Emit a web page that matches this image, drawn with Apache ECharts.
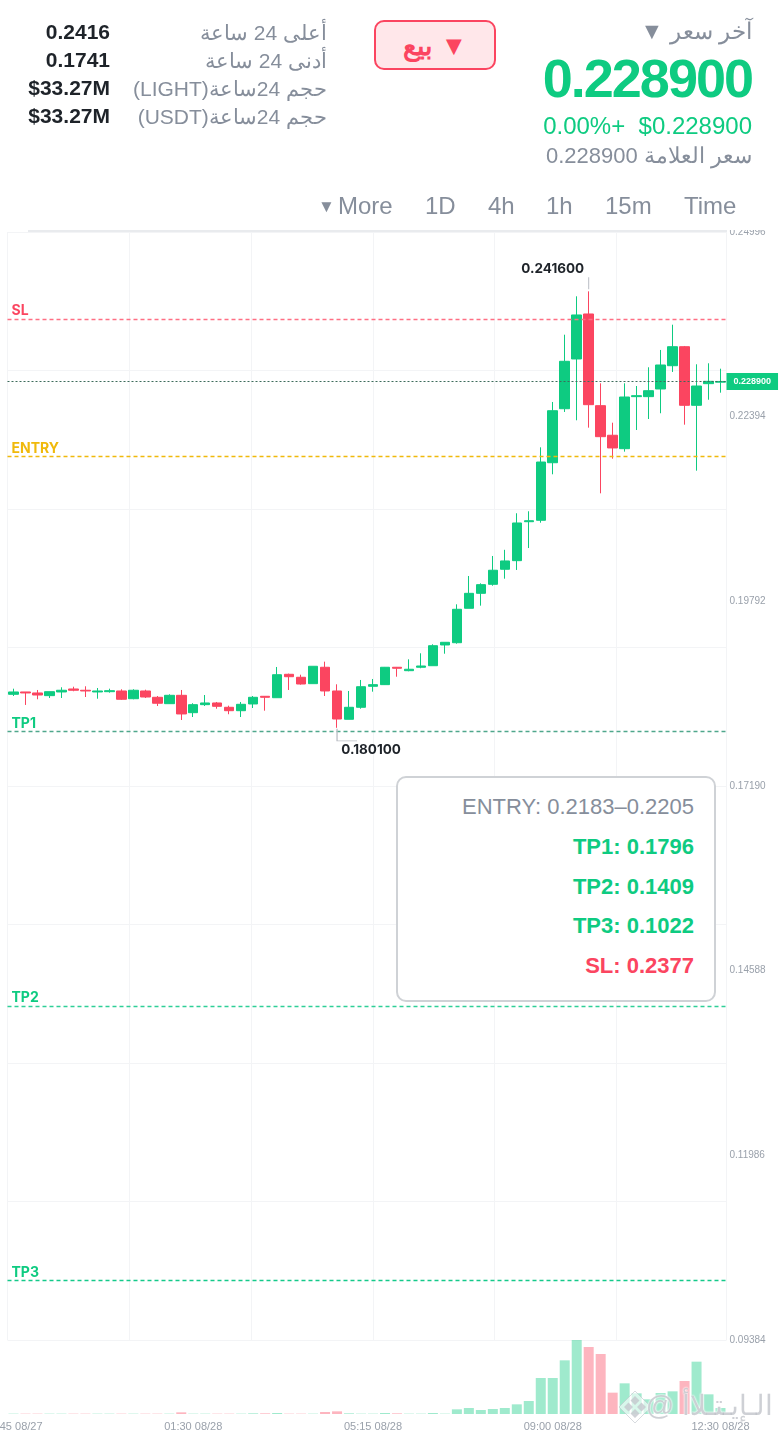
<!DOCTYPE html>
<html><head><meta charset="utf-8">
<script src="https://cdn.jsdelivr.net/npm/echarts@6/dist/echarts.min.js"></script>
<style>
html,body{margin:0;padding:0;background:#fff;width:780px;height:1432px;overflow:hidden;font-family:"Liberation Sans",sans-serif}
#chart{position:absolute;left:0;top:0;width:780px;height:1432px}
.t{position:absolute;white-space:nowrap;line-height:1}
.g{color:#868e9b}.d{color:#1e2329;font-weight:bold}.up{color:#0ecb81}
#box{position:absolute;left:396px;top:776px;width:316px;height:222px;border:2px solid #cfd2d6;border-radius:10px;background:#fff}
#box div{position:absolute;right:20px;font-size:22px;line-height:1;white-space:nowrap}
#tabs span{position:absolute;top:194px;font-size:24px;line-height:1;color:#868e9b;white-space:nowrap}
</style></head><body>
<div id="chart"></div>
<div id="head"></div>
<div id="tabs"></div>
<div id="box"></div>
<svg style="position:absolute;left:618px;top:1390px" width="34" height="34" viewBox="0 0 34 34"><path d="M17 1L33 17L17 33L1 17Z" fill="rgba(255,255,255,.6)" stroke="rgba(190,195,202,.6)" stroke-width="1"/><g fill="#c3c7cd" opacity=".8"><path d="M17 6l4.5 4.5-4.5 4.5-4.5-4.5zM17 19l4.5 4.5-4.5 4.5-4.5-4.5zM10.500 12.500l4.500 4.500-4.500 4.500-4.500-4.500zM23.500 12.500l4.500 4.500-4.500 4.500-4.500-4.500z"/></g></svg>
<div class="t" id="wm" style="right:7px;top:1392px;font-size:28px;color:rgba(165,170,178,.55);text-shadow:0 0 2px #fff,0 0 2px #fff;direction:rtl;text-align:right;letter-spacing:1px">الـإيـتـلاأ @</div>
<script>
var categories=["21:45 08/27","22:00 08/27","22:15 08/27","22:30 08/27","22:45 08/27","23:00 08/27","23:15 08/27","23:30 08/27","23:45 08/27","00:00 08/28","00:15 08/28","00:30 08/28","00:45 08/28","01:00 08/28","01:15 08/28","01:30 08/28","01:45 08/28","02:00 08/28","02:15 08/28","02:30 08/28","02:45 08/28","03:00 08/28","03:15 08/28","03:30 08/28","03:45 08/28","04:00 08/28","04:15 08/28","04:30 08/28","04:45 08/28","05:00 08/28","05:15 08/28","05:30 08/28","05:45 08/28","06:00 08/28","06:15 08/28","06:30 08/28","06:45 08/28","07:00 08/28","07:15 08/28","07:30 08/28","07:45 08/28","08:00 08/28","08:15 08/28","08:30 08/28","08:45 08/28","09:00 08/28","09:15 08/28","09:30 08/28","09:45 08/28","10:00 08/28","10:15 08/28","10:30 08/28","10:45 08/28","11:00 08/28","11:15 08/28","11:30 08/28","11:45 08/28","12:00 08/28","12:15 08/28","12:30 08/28"];
var opens=[.18482,.18515,.18501,.18463,.18515,.18557,.18539,.18515,.18519,.18529,.18420,.18529,.18440,.18350,.18468,.18223,.18336,.18360,.18299,.18251,.18346,.18454,.18434,.18764,.18722,.18632,.18863,.18529,.18130,.18299,.18595,.18618,.18863,.18815,.18863,.18885,.19177,.19209,.19694,.19905,.20032,.20244,.20365,.20914,.20934,.21745,.22506,.23207,.23841,.22549,.22132,.21943,.22676,.22676,.22784,.23112,.23380,.22554,.22859,.22880];
var closes=[.18515,.18501,.18472,.18519,.18539,.18539,.18529,.18529,.18533,.18412,.18539,.18444,.18356,.18468,.18205,.18336,.18360,.18313,.18251,.18341,.18440,.18440,.18758,.18730,.18627,.18877,.18529,.18134,.18299,.18589,.18618,.18863,.18849,.18835,.18881,.19167,.19215,.19680,.19905,.20027,.20230,.20361,.20896,.20928,.21755,.22478,.23174,.23827,.22563,.22112,.21953,.22671,.22690,.22760,.23122,.23380,.22554,.22826,.22892,.22890];
var lows=[.18458,.18332,.18412,.18430,.18430,.18525,.18444,.18420,.18505,.18402,.18412,.18430,.18317,.18346,.18120,.18162,.18317,.18279,.18201,.18162,.18289,.18251,.18434,.18543,.18618,.18632,.18458,.18010,.18130,.18279,.18519,.18613,.18730,.18806,.18849,.18885,.19054,.19195,.19694,.19731,.20012,.20111,.20234,.20543,.20900,.21582,.22460,.22343,.22239,.21314,.21802,.21901,.22206,.22361,.22442,.23024,.22281,.21633,.22633,.22732];
var highs=[.18561,.18515,.18543,.18519,.18581,.18589,.18595,.18571,.18561,.18553,.18553,.18547,.18458,.18482,.18543,.18356,.18472,.18374,.18322,.18374,.18458,.18458,.18867,.18773,.18758,.18877,.18942,.18623,.18529,.18684,.18698,.18867,.18867,.18975,.19060,.19187,.19215,.19750,.20149,.20046,.20431,.20518,.21033,.21061,.21962,.22601,.23549,.24090,.24160,.22864,.22309,.22864,.22826,.23090,.23334,.23690,.23390,.23132,.23146,.23070];
var volumes=[1,1,1,1,1,1,1,1,1,1,1,1,1,1,5,1,1,1,1,1,2,2,3,1,1,1,6,8,2,1,1,3,2,1,1,3,1,14,18,12,15,18,29,39,108,108,161,222,201,180,64,92,62,44,63,68,99,157,59,18];
var priceTicks=[0.24996,0.22394,0.19792,0.1719,0.14588,0.11986,0.09384];
var levelNames=["SL","ENTRY","TP1","TP2","TP3"];
var levelValues=[0.2377,0.2183,0.1796,0.1409,0.1022];
var levelColors=["#ff6f84","#f0b90b","#4fa78c","#2fcf97","#14c98a"];
var lastPrice=0.2289, highPoint=0.2416, lowPoint=0.1801;
var sideLabels=["أعلى 24 ساعة","أدنى 24 ساعة","حجم 24ساعة(LIGHT)","حجم 24ساعة(USDT)"];
var sideValues=["0.2416","0.1741","$33.27M","$33.27M"];
var tabLabels=["Time","15m","1h","4h","1D","More"];
var boxLines=["ENTRY: 0.2183–0.2205","TP1: 0.1796","TP2: 0.1409","TP3: 0.1022","SL: 0.2377"];

var UP="#0ecb81",DOWN="#fb4560",GRID="#f3f4f6",TXT="#9aa1ab";
var ohlc=opens.map(function(o,i){return [o,closes[i],lows[i],highs[i]];});
var volData=volumes.map(function(v,i){return {value:v,itemStyle:{color:closes[i]>=opens[i]?"rgba(14,203,129,.4)":"rgba(251,69,96,.4)"}};});
var levelLines=levelNames.map(function(n,i){return {yAxis:levelValues[i],lineStyle:{color:levelColors[i],type:[4,3],width:1.4,opacity:1},
  label:{show:true,formatter:n,position:"insideStartTop",color:n==="SL"?"#fb4560":(n==="ENTRY"?"#f0b90b":"#0ecb81"),fontWeight:"bold",fontSize:14,fontFamily:"Inter",distance:[4,1]}};});
levelLines.push({yAxis:lastPrice,lineStyle:{color:"#3c6b5b",type:[2,2],width:1},
  label:{show:true,position:"end",formatter:lastPrice.toFixed(6),color:"#fff",backgroundColor:UP,fontSize:9,fontWeight:"bold",fontFamily:"Liberation Sans",padding:[4,7,4,7],distance:0}});

var chart=echarts.init(document.getElementById("chart"),null,{renderer:"canvas"});
chart.setOption({animation:false,
 grid:[{left:7.5,right:53.5,top:232,height:1108,outerBoundsMode:"none"},{left:7.5,right:53.5,top:1340,height:74,outerBoundsMode:"none"}],
 xAxis:[
  {type:"category",data:categories,gridIndex:0,axisLine:{show:false},axisTick:{show:false},axisLabel:{show:false},splitLine:{show:false},boundaryGap:true},
  {type:"category",data:categories,gridIndex:1,axisLine:{show:false},axisTick:{show:false},splitLine:{show:false},
   axisLabel:{color:TXT,fontSize:11,fontFamily:"Liberation Sans",margin:7,hideOverlap:false,showMinLabel:true,showMaxLabel:true,
    interval:function(i){return i%15===0||i===categories.length-1;},formatter:function(v){return v;}}},
  {type:"value",gridIndex:0,min:0,max:719,interval:121.8,axisLine:{show:false},axisTick:{show:false},axisLabel:{show:false},splitLine:{show:true,lineStyle:{color:GRID,width:1}}}
 ],
 yAxis:[
  {type:"value",gridIndex:0,min:0.09384,max:0.24996,position:"right",scale:true,axisLine:{show:false},axisTick:{show:false},splitLine:{show:false},
   axisLabel:{customValues:priceTicks,color:TXT,fontSize:10,fontFamily:"Liberation Sans",margin:3,formatter:function(v){return v.toFixed(5);}}},
  {type:"value",gridIndex:0,min:0,max:8,interval:1,position:"left",axisLine:{show:false},axisTick:{show:false},axisLabel:{show:false},splitLine:{show:true,lineStyle:{color:GRID,width:1}}},
  {type:"value",gridIndex:1,min:0,max:222,axisLine:{show:false},axisTick:{show:false},axisLabel:{show:false},splitLine:{show:false}}
 ],
 series:[
  {type:"line",xAxisIndex:2,yAxisIndex:1,data:[],silent:true},
  {type:"candlestick",xAxisIndex:0,yAxisIndex:0,data:ohlc,barWidth:10,clip:false,
   itemStyle:{color:UP,color0:DOWN,borderColor:UP,borderColor0:DOWN,borderWidth:1},
   markLine:{silent:true,symbol:"none",animation:false,precision:6,data:levelLines},
   markPoint:{silent:true,animation:false,data:[
    {coord:[48,highPoint],symbol:"rect",symbolSize:[1,12],symbolOffset:[0,-8],itemStyle:{color:"#b9bdc4"},
     label:{show:true,formatter:highPoint.toFixed(6),position:"left",distance:4,offset:[0,-14],color:"#1e2329",fontWeight:"bold",fontSize:13.5,fontFamily:"Inter"}},
    {coord:[27,lowPoint],symbol:"path://M0 0V12H20",symbolSize:[20,12],symbolOffset:[10,7],itemStyle:{color:"none",borderColor:"#b9bdc4",borderWidth:1},
     label:{show:true,formatter:lowPoint.toFixed(6),position:"bottom",distance:0,offset:[24,0],color:"#1e2329",fontWeight:"bold",fontSize:13.5,fontFamily:"Inter"}}
   ]}},
  {type:"bar",xAxisIndex:1,yAxisIndex:2,data:volData,barWidth:10}
 ],
 graphic:[
  {type:"rect",z:100,shape:{x:0,y:218,width:780,height:12},style:{fill:"#fff"},silent:true},
  {type:"rect",z:101,shape:{x:28,y:230,width:699,height:2},style:{fill:"#e9ebee"},silent:true}]
});

var h=document.getElementById("head"),s="";
function T(css,cls,txt,rtl){s+='<div class="t '+cls+'" style="'+css+(rtl?';direction:rtl':'')+'">'+txt+'</div>';}
var sy=[22,50,78,106];
sideLabels.forEach(function(l,i){T("right:453px;top:"+sy[i]+"px;font-size:21px","g",l,true);});
sideValues.forEach(function(v,i){T("right:670px;top:"+(sy[i]-1)+"px;font-size:21px","d",v);});
T("right:28px;top:20px;font-size:23px","g","آخر سعر ▼",true);
T("right:28px;top:51px;font-size:54px;font-weight:bold;letter-spacing:-2px","up",lastPrice.toFixed(6));
T("right:28px;top:114px;font-size:24px","up","0.00%+ &nbsp;$0.228900");
T("right:28px;top:145px;font-size:22px","g","سعر العلامة 0.228900",true);
s+='<div style="position:absolute;left:374px;top:20px;width:118px;height:46px;border:2px solid #fb4560;border-radius:10px;background:#ffe7ea;color:#fb4560;font-weight:bold;font-size:27px;text-align:center;line-height:48px;direction:rtl">▼ بيع</div>';
h.innerHTML=s;
var tx=[684,605,546,488,425,338],t="";
tabLabels.forEach(function(l,i){t+='<span style="left:'+tx[i]+'px">'+l+'</span>';});
t+='<span style="left:318px;font-size:17px;top:198px">▼</span>';
document.getElementById("tabs").innerHTML=t;
var bc=["#868e9b",UP,UP,UP,DOWN],bt=[18,58,98,137,177],b="";
boxLines.forEach(function(l,i){b+='<div style="top:'+bt[i]+'px;color:'+bc[i]+(i?';font-weight:bold':'')+'">'+l+'</div>';});
document.getElementById("box").innerHTML=b;
</script></body></html>
